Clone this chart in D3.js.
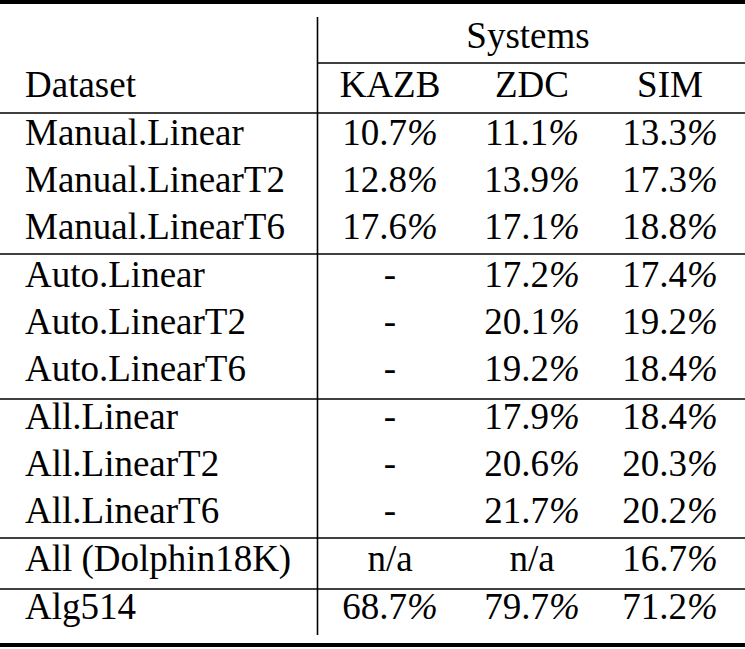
<!DOCTYPE html>
<html>
<head>
<meta charset="utf-8">
<script src="https://cdn.jsdelivr.net/npm/d3@7"></script>
<style>
  body { margin: 0; background: #fff; }
  text { font-family: "Liberation Serif", "Times New Roman", serif; font-size: 37px; fill: #000; }
</style>
</head>
<body>
<div id="chart"></div>
<script>
const systems = ['KAZB', 'ZDC', 'SIM'];
const datasets = ['Manual.Linear', 'Manual.LinearT2', 'Manual.LinearT6',
  'Auto.Linear', 'Auto.LinearT2', 'Auto.LinearT6',
  'All.Linear', 'All.LinearT2', 'All.LinearT6',
  'All (Dolphin18K)', 'Alg514'];
const groups = [0, 0, 0, 1, 1, 1, 2, 2, 2, 3, 4];
const kazb = ['10.7%', '12.8%', '17.6%', '-', '-', '-', '-', '-', '-', 'n/a', '68.7%'];
const zdc  = ['11.1%', '13.9%', '17.1%', '17.2%', '20.1%', '19.2%', '17.9%', '20.6%', '21.7%', 'n/a', '79.7%'];
const sim  = ['13.3%', '17.3%', '18.8%', '17.4%', '19.2%', '18.4%', '18.4%', '20.3%', '20.2%', '16.7%', '71.2%'];
const columns = [kazb, zdc, sim];

const width = 745, height = 649;
const svg = d3.select('#chart').append('svg').attr('width', width).attr('height', height);

const x = d3.scaleOrdinal().domain(systems).range([390, 532, 670]);
// baseline of each body row
const rowY = i => 145 + i * 47 + groups[i];

const hline = (y, x1, x2, w) => svg.append('line')
  .attr('x1', x1).attr('x2', x2).attr('y1', y).attr('y2', y)
  .attr('stroke', '#000').attr('stroke-width', w);
hline(2, 0, width, 4);
hline(63, 318, width, 1.6);
hline(113, 0, width, 1.6);
[254, 399, 538, 589].forEach(y => hline(y, 0, width, 1.6));
hline(645, 0, width, 4);
svg.append('line').attr('x1', 317.5).attr('x2', 317.5).attr('y1', 17).attr('y2', 635)
  .attr('stroke', '#000').attr('stroke-width', 1.6);

// percent sign drawn slanted, as in the reference
const cell = (sel) => sel.each(function (d) {
  const t = d3.select(this);
  if (d.endsWith('%')) {
    t.append('tspan').text(d.slice(0, -1));
    t.append('tspan').attr('font-style', 'italic').text('%');
  } else {
    t.text(d);
  }
});

svg.append('text').attr('x', 528).attr('y', 48).attr('text-anchor', 'middle').text('Systems');
svg.append('text').attr('x', 25).attr('y', 97).text('Dataset');
svg.selectAll('.sys').data(systems).enter().append('text')
  .attr('x', d => x(d)).attr('y', 97).attr('text-anchor', 'middle').text(d => d);

svg.selectAll('.ds').data(datasets).enter().append('text')
  .attr('x', 25).attr('y', (d, i) => rowY(i)).text(d => d);
columns.forEach((col, c) => {
  svg.selectAll('.c' + c).data(col).enter().append('text')
    .attr('x', x(systems[c])).attr('y', (d, i) => rowY(i))
    .attr('text-anchor', 'middle').call(cell);
});
</script>
</body>
</html>
